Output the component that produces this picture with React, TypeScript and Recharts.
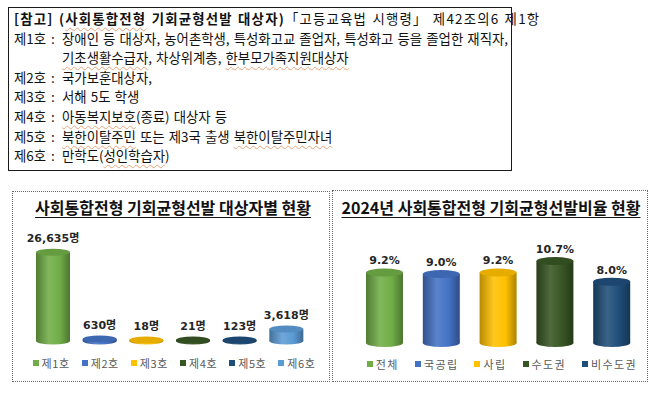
import React from 'react';
import { BarChart, Bar, XAxis, YAxis, Cell, LabelList, Legend } from 'recharts';

// 대상자별 현황 (명)
const targetCategories = ['제1호', '제2호', '제3호', '제4호', '제5호', '제6호'];
const targetCounts = [26635, 630, 18, 21, 123, 3618];
const targetColors = ['#70AD47', '#4472C4', '#FFC000', '#375623', '#1F4E79', '#5B9BD5'];

// 2024년 선발비율 (%)
const rateCategories = ['전체', '국공립', '사립', '수도권', '비수도권'];
const rateValues = [9.2, 9.0, 9.2, 10.7, 8.0];
const rateColors = ['#70AD47', '#4472C4', '#FFC000', '#375623', '#1F4E79'];

const targetData = targetCategories.map((name, i) => ({ name, value: targetCounts[i] }));
const rateData = rateCategories.map((name, i) => ({ name, value: rateValues[i] }));

const KR = '"Noto Sans CJK KR", "Noto Sans", sans-serif';
const LABEL_FONT = '"DejaVu Sans", "Noto Sans CJK KR", sans-serif';

const mix = (hex: string, f: number) => {
  const n = parseInt(hex.slice(1), 16);
  const ch = [(n >> 16) & 255, (n >> 8) & 255, n & 255].map((c) =>
    f >= 1 ? Math.round(c + (255 - c) * (f - 1)) : Math.round(c * f)
  );
  return '#' + ch.map((c) => c.toString(16).padStart(2, '0')).join('');
};

const Gradients = ({ colors, prefix }: { colors: string[]; prefix: string }) => (
  <defs>
    {colors.map((c, i) => (
      <linearGradient key={i} id={`${prefix}-${i}`} x1="0" y1="0" x2="1" y2="0">
        <stop offset="0%" stopColor={mix(c, 0.72)} />
        <stop offset="38%" stopColor={mix(c, 1.12)} />
        <stop offset="70%" stopColor={c} />
        <stop offset="100%" stopColor={mix(c, 0.68)} />
      </linearGradient>
    ))}
  </defs>
);

// 원통형 막대
const makeCylinder = (colors: string[], prefix: string, ry: number) => (props: any) => {
  const { x, y, width, height, index } = props;
  if (width == null || y == null) return null;
  const cx = x + width / 2;
  const rx = width / 2;
  const base = colors[index];
  const h = Math.max(height, 0);
  return (
    <g>
      <ellipse cx={cx} cy={y + h} rx={rx} ry={ry} fill={`url(#${prefix}-${index})`} />
      {h > 0.5 && <rect x={x} y={y} width={width} height={h} fill={`url(#${prefix}-${index})`} />}
      <ellipse cx={cx} cy={y} rx={rx} ry={ry} fill={mix(base, h > 0.5 ? 0.9 : 1)} />
    </g>
  );
};

const makeLegend = (names: string[], colors: string[], gap: number, spacing: number) => () => (
  <div
    style={{
      display: 'flex',
      justifyContent: 'center',
      gap,
      fontFamily: KR,
      fontSize: 11,
      color: '#595959',
      letterSpacing: spacing,
      lineHeight: '14px',
    }}
  >
    {names.map((n, i) => (
      <span key={n} style={{ display: 'flex', alignItems: 'center' }}>
        <span style={{ width: 6, height: 6, background: colors[i], marginRight: 3, display: 'inline-block' }} />
        {n}
      </span>
    ))}
  </div>
);

const wavy: React.CSSProperties = {
  textDecoration: 'underline wavy #e8a47a',
  textDecorationThickness: '1px',
  textUnderlineOffset: '3px',
};

const Row = ({ label, children }: { label: string; children: React.ReactNode }) => (
  <div style={{ display: 'flex' }}>
    <span style={{ width: 48, flexShrink: 0 }}>
      {label}
      <span style={{ marginLeft: 5 }}>:</span>
    </span>
    <span>{children}</span>
  </div>
);

const panel: React.CSSProperties = { position: 'absolute', border: '1px dotted #6a6a6a', boxSizing: 'border-box' };
const title: React.CSSProperties = {
  position: 'absolute',
  top: 197,
  fontFamily: KR,
  fontWeight: 700,
  fontSize: 16,
  lineHeight: '20px',
  textDecoration: 'underline',
  textUnderlineOffset: '3px',
  whiteSpace: 'nowrap',
  transform: 'translateX(-50%)',
  color: '#111',
};

export default function App() {
  return (
    <div style={{ position: 'absolute', left: 0, top: 0, width: 658, height: 393, background: '#fff', overflow: 'hidden' }}>
      <div
        style={{
          position: 'absolute',
          left: 8,
          top: 7,
          width: 504,
          height: 164,
          border: '1px solid #1a1a1a',
          boxSizing: 'border-box',
          padding: '1px 0 0 5px',
          fontFamily: KR,
          fontSize: 13.4,
          lineHeight: '19.6px',
          wordSpacing: 1.1,
          color: '#111',
          whiteSpace: 'nowrap',
        }}
      >
        <div style={{ letterSpacing: 1.2 }}>
          <b>
            [참고] (<span style={wavy}>사회통합전형</span> 기회균형선발 대상자)
          </b>
          「고등교육법 시행령」 제42조의6 제1항
        </div>
        <Row label="제1호">
          장애인 등 대상자, 농어촌학생, 특성화고교 졸업자, 특성화고 등을 졸업한 재직자,
          <br />
          <span style={wavy}>기초생활수급자</span>, 차상위계층, <span style={wavy}>한부모가족지원대상자</span>
        </Row>
        <Row label="제2호">국가보훈대상자,</Row>
        <Row label="제3호">서해 5도 학생</Row>
        <Row label="제4호">
          <span style={wavy}>아동복지보호</span>(종료) 대상자 등
        </Row>
        <Row label="제5호">
          <span style={wavy}>북한이탈주민</span> 또는 제3국 출생 <span style={wavy}>북한이탈주민자녀</span>
        </Row>
        <Row label="제6호">
          만학도(<span style={wavy}>성인학습자</span>)
        </Row>
      </div>

      <div style={{ ...panel, left: 12, top: 191, width: 318, height: 191 }} />
      <div style={{ ...panel, left: 332, top: 190, width: 316, height: 192 }} />
      <div style={{ ...title, left: 173 }}>사회통합전형 기회균형선발 대상자별 현황</div>
      <div style={{ ...title, left: 491 }}>2024년 사회통합전형 기회균형선발비율 현황</div>

      <div style={{ position: 'absolute', left: 0, top: 180 }}>
        <BarChart width={330} height={200} data={targetData} margin={{ top: 61, right: 20, bottom: 39, left: 30 }}>
          <Gradients colors={targetColors} prefix="tg" />
          <XAxis dataKey="name" hide />
          <YAxis hide domain={[0, 30000]} />
          <Legend
            verticalAlign="middle"
            align="center"
            layout="horizontal"
            wrapperStyle={{ top: 176, left: 0, width: 348 }}
            content={makeLegend(targetCategories, targetColors, 12, 0.6)}
          />
          <Bar
            dataKey="value"
            barSize={34}
            minPointSize={1}
            isAnimationActive={false}
            shape={makeCylinder(targetColors, 'tg', 3.5)}
          >
            {targetData.map((d, i) => (
              <Cell key={d.name} fill={targetColors[i]} />
            ))}
            <LabelList
              dataKey="value"
              position="top"
              offset={10}
              formatter={(v: any) => Number(v).toLocaleString('en-US') + '명'}
              style={{ fontFamily: LABEL_FONT, fontSize: 11, fontWeight: 700, fill: '#262626' }}
            />
          </Bar>
        </BarChart>
      </div>

      <div style={{ position: 'absolute', left: 330, top: 180 }}>
        <BarChart width={328} height={200} data={rateData} margin={{ top: 71, right: 18, bottom: 37, left: 26 }}>
          <Gradients colors={rateColors} prefix="rt" />
          <XAxis dataKey="name" hide />
          <YAxis hide domain={[0, 12]} />
          <Legend
            verticalAlign="middle"
            align="center"
            layout="horizontal"
            wrapperStyle={{ top: 177, left: 0, width: 344 }}
            content={makeLegend(rateCategories, rateColors, 16, 1.4)}
          />
          <Bar
            dataKey="value"
            barSize={37}
            isAnimationActive={false}
            shape={makeCylinder(rateColors, 'rt', 4)}
          >
            {rateData.map((d, i) => (
              <Cell key={d.name} fill={rateColors[i]} />
            ))}
            <LabelList
              dataKey="value"
              position="top"
              offset={8}
              formatter={(v: any) => Number(v).toFixed(1) + '%'}
              style={{ fontFamily: LABEL_FONT, fontSize: 11, fontWeight: 700, fill: '#262626' }}
            />
          </Bar>
        </BarChart>
      </div>
    </div>
  );
}
